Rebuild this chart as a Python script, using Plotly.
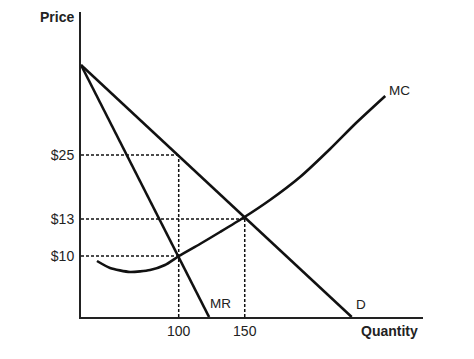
import plotly.graph_objects as go

# Schematic monopoly diagram (not to scale): quantity axis in units, price axis in diagram height units
q_range = [26, 285]
h_range = [0, 305]

price_tick_pos = [61, 98, 162]
price_tick_labels = ["$10", "$13", "$25"]
qty_ticks = [100, 150]
qty_tick_labels = ["100", "150"]

demand_q = [26, 231]
demand_h = [252, 0]

mr_q = [26, 123]
mr_h = [252, 0]

mc_q = [38.1, 48.0, 63.1, 78.3, 89.6, 100.2, 116.1, 131.3, 148.7, 169.1, 191.9, 214.6, 233.5, 256.4]
mc_h = [56, 49, 45, 47, 52, 61, 73, 85, 99, 117, 140, 168, 193, 221]

# Guide points: (quantity, price-height)
guides = [(100, 162), (150, 98), (100, 61)]

LINE = "#111111"
TXT = "#222222"
FONT = "Liberation Sans, Arial, sans-serif"
DASH = "3px,2px"

fig = go.Figure()

# dashed guides
for gq, gh in guides:
    fig.add_trace(go.Scatter(x=[q_range[0], gq], y=[gh, gh], mode="lines",
                             line=dict(color=LINE, width=1.5, dash=DASH),
                             hoverinfo="skip", showlegend=False, cliponaxis=False))
for gq, gh in [(100, 162), (150, 98)]:
    fig.add_trace(go.Scatter(x=[gq, gq], y=[0, gh], mode="lines",
                             line=dict(color=LINE, width=1.5, dash=DASH),
                             hoverinfo="skip", showlegend=False, cliponaxis=False))

fig.add_trace(go.Scatter(x=demand_q, y=demand_h, mode="lines",
                         line=dict(color=LINE, width=2.6), showlegend=False, cliponaxis=False))
fig.add_trace(go.Scatter(x=mr_q, y=mr_h, mode="lines",
                         line=dict(color=LINE, width=2.6), showlegend=False, cliponaxis=False))
fig.add_trace(go.Scatter(x=mc_q, y=mc_h, mode="lines",
                         line=dict(color=LINE, width=2.6, shape="spline", smoothing=0.6),
                         showlegend=False, cliponaxis=False))

annots = [
    dict(x=267.5, y=227, text="MC", xref="x", yref="y", xanchor="center", yanchor="middle", font=dict(size=13.5)),
    dict(x=132, y=14, text="MR", xref="x", yref="y", xanchor="center", yanchor="middle", font=dict(size=13.5)),
    dict(x=238, y=13, text="D", xref="x", yref="y", xanchor="center", yanchor="middle", font=dict(size=13.5)),
    dict(x=-0.0146, y=0.9836, text="<b>Price</b>", xref="paper", yref="paper",
         xanchor="right", yanchor="middle", font=dict(size=14)),
    dict(x=0.9035, y=-0.0459, text="<b>Quantity</b>", xref="paper", yref="paper",
         xanchor="center", yanchor="middle", font=dict(size=14)),
]
for a in annots:
    a.update(showarrow=False)
    a["font"].update(family=FONT, color=TXT)
    fig.add_annotation(**a)

# page body has an 8px default margin; figure sized to fit the window
fig.update_layout(
    width=458, height=343,
    margin=dict(l=73, r=43, t=4, b=34, autoexpand=False),
    paper_bgcolor="white", plot_bgcolor="white",
    font=dict(family=FONT, size=14, color=TXT),
)
fig.update_xaxes(range=q_range, tickvals=qty_ticks, ticktext=qty_tick_labels,
                 showgrid=False, zeroline=False, showline=True, linecolor="#222222",
                 linewidth=2, ticks="", ticklabelstandoff=0, automargin=False)
fig.update_yaxes(range=h_range, tickvals=price_tick_pos, ticktext=price_tick_labels,
                 showgrid=False, zeroline=False, showline=True, linecolor="#222222",
                 linewidth=2, ticks="", ticklabelstandoff=2, automargin=False)

fig.write_html("out.html")
